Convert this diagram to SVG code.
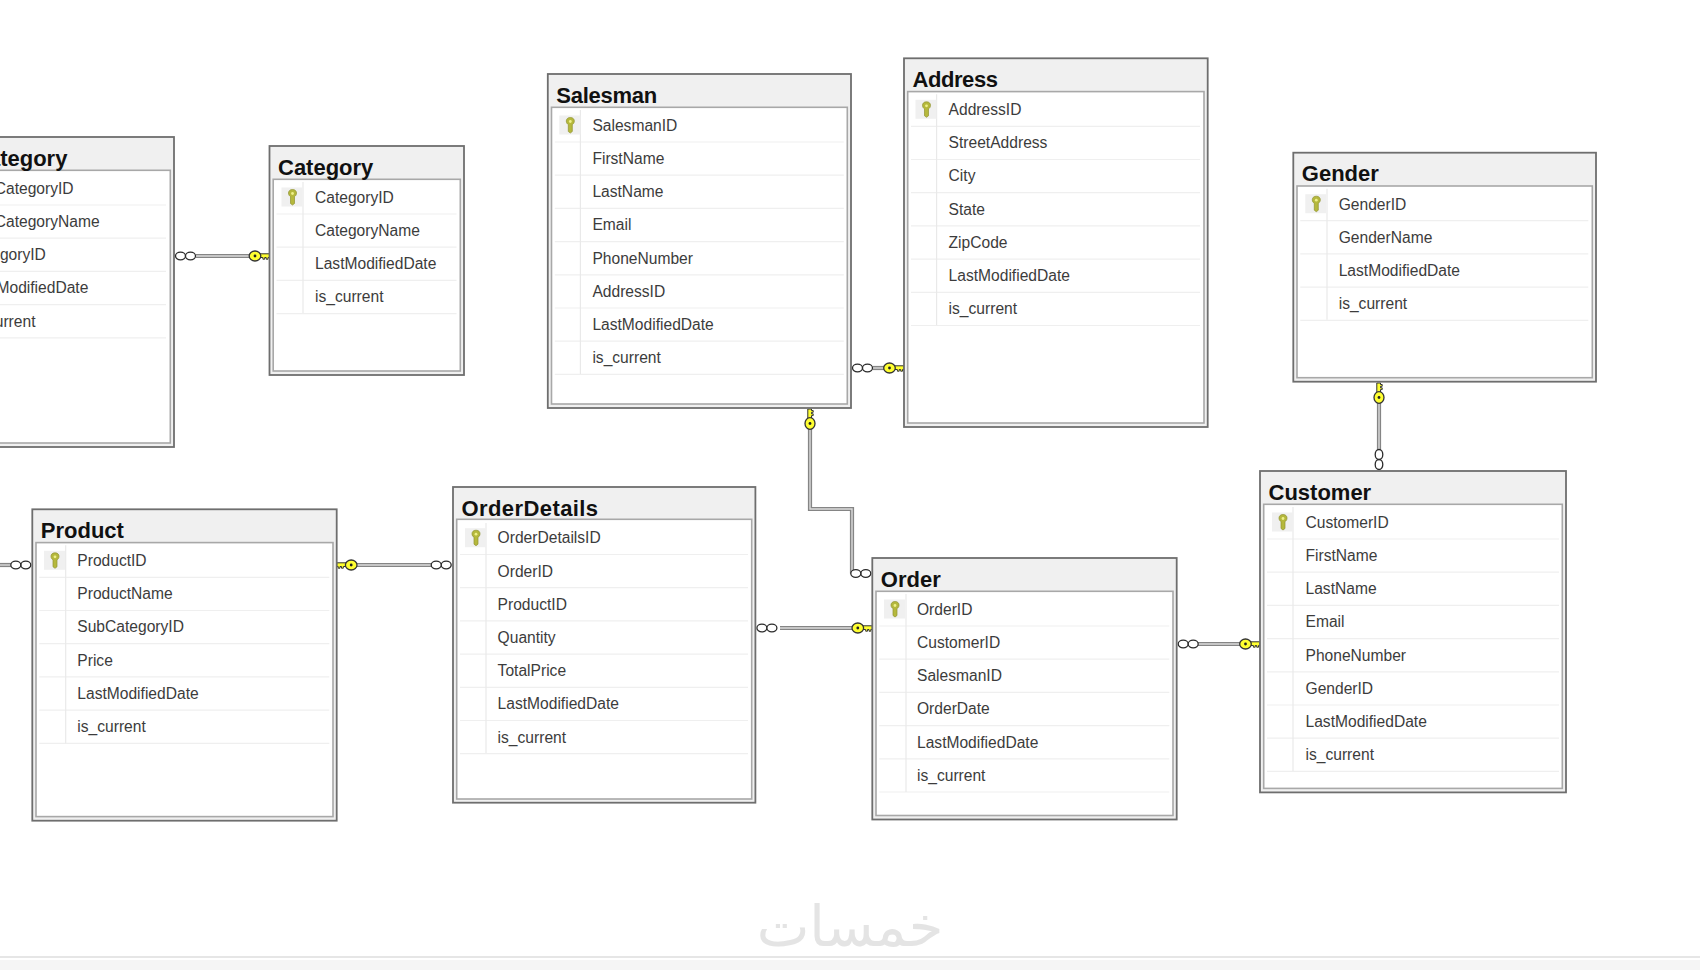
<svg xmlns="http://www.w3.org/2000/svg" width="1700" height="970" viewBox="0 0 1700 970">
<style>
.outer{fill:#f0f0f0;stroke:#6e6e6e;stroke-width:1.8}
.inner{fill:#fff;stroke:#a8a8a8;stroke-width:1.6}
.title{font:bold 22px "Liberation Sans",Arial,sans-serif;fill:#111}
.f{font:15.6px "Liberation Sans",Arial,sans-serif;fill:#3c3c3c;transform:translateY(.8px)}
.sep{stroke:#efefef;stroke-width:1.2;fill:none}
.gut{stroke:#e9e9e9;stroke-width:1.2;fill:none}
.l1{fill:none;stroke:#858585;stroke-width:4.2}
.l2{fill:none;stroke:#dcdcdc;stroke-width:1.4}
.wm{font:56px "DejaVu Sans",sans-serif;fill:#e4e4e4}
</style>
<defs>
<g id="key">
<path d="M-10-2.200H0V1.500H-1.500V3.200H-3.300V1.500H-4.800V3.200H-6.600V1.500H-10Z" fill="#ffff30" stroke="#333" stroke-width="1"/>
<ellipse cx="-14.500" cy="0" rx="5.800" ry="5" fill="#ffff30" stroke="#333" stroke-width="1.300"/>
<circle cx="-14.500" cy="0" r="1.400" fill="#222"/>
</g>
<g id="oo" fill="#fff" stroke="#2a2a2a" stroke-width="1.300">
<ellipse cx="6.500" cy="0" rx="5" ry="3.800"/>
<ellipse cx="16.500" cy="0" rx="5" ry="3.800"/>
</g>
<g id="pk">
<rect x="-11" y="-9.500" width="21" height="19" fill="#f0f0f0"/>
<path d="M0-7.500c3 0 4 2 4 3.500 0 2-1 3-2 3.500V6.500L0 8-2 6.500V-.5c-1-.5-2-1.500-2-3.500C-4-5.500-3-7.500 0-7.500Z" fill="#b5b83c" stroke="#8f9230" stroke-width=".7"/>
<circle cx="0" cy="-3.500" r="1.400" fill="#eef08a"/>
</g>
</defs>
<rect x="0" y="0" width="1700" height="970" fill="#fff"/>

<g id="connectors">
<path class="l1" d="M196 256H255"/><path class="l2" d="M196 256H255"/>
<path class="l1" d="M873 368H888"/><path class="l2" d="M873 368H888"/>
<path class="l1" d="M810 425V509H852V573.500"/><path class="l2" d="M810 425V509H852V573.500"/>
<path class="l1" d="M780 628H855"/><path class="l2" d="M780 628H855"/>
<path class="l1" d="M1197 644H1245"/><path class="l2" d="M1197 644H1245"/>
<path class="l1" d="M1379 400V450"/><path class="l2" d="M1379 400V450"/>
<path class="l1" d="M350 565H432"/><path class="l2" d="M350 565H432"/>
<path class="l1" d="M0 565H12"/><path class="l2" d="M0 565H12"/>
<use href="#oo" transform="translate(174,256)"/>
<use href="#key" transform="translate(269.500,256)"/>
<use href="#oo" transform="translate(851,368)"/>
<use href="#key" transform="translate(904,368)"/>
<use href="#key" transform="translate(810,409) rotate(-90)"/>
<use href="#oo" transform="translate(872.300,573.500) scale(-1,1)"/>
<use href="#oo" transform="translate(755.400,628)"/>
<use href="#key" transform="translate(872.300,628)"/>
<use href="#oo" transform="translate(1176.700,644)"/>
<use href="#key" transform="translate(1260,644)"/>
<use href="#key" transform="translate(1379,383) rotate(-90)"/>
<use href="#oo" transform="translate(1379,471) rotate(-90)"/>
<use href="#key" transform="translate(336.700,565) scale(-1,1)"/>
<use href="#oo" transform="translate(452.700,565) scale(-1,1)"/>
<use href="#oo" transform="translate(32.300,565) scale(-1,1)"/>
</g>

<g id="SubCategory" transform="translate(-78,137)">
<rect class="outer" width="252" height="310"/><rect class="inner" x="3.700" y="33.300" width="244.600" height="272.700"/>
<path class="sep" d="M7 68H244M7 101.200H244M7 134.400H244M7 167.600H244M7 200.800H244"/>
<path class="gut" d="M33 36V200"/>
<text class="title" x="8.500" y="28.700">SubCategory</text>
<use href="#pk" x="22.500" y="51"/>
<text class="f" x="45" y="56">SubCategoryID</text>
<text class="f" x="45" y="89.200">SubCategoryName</text>
<text class="f" x="45" y="122.400">CategoryID</text>
<text class="f" x="45" y="155.600">LastModifiedDate</text>
<text class="f" x="45" y="188.800">is_current</text>
</g>

<g id="Category" transform="translate(269.500,146)">
<rect class="outer" width="194.500" height="229"/><rect class="inner" x="3.700" y="33.300" width="187.100" height="191.700"/>
<path class="sep" d="M7 68H187M7 101.200H187M7 134.400H187M7 167.600H187"/>
<path class="gut" d="M33.500 36V167"/>
<text class="title" x="8.500" y="28.700">Category</text>
<use href="#pk" x="23" y="51"/>
<text class="f" x="45.500" y="56">CategoryID</text>
<text class="f" x="45.500" y="89.200">CategoryName</text>
<text class="f" x="45.500" y="122.400">LastModifiedDate</text>
<text class="f" x="45.500" y="155.600">is_current</text>
</g>

<g id="Salesman" transform="translate(547.800,74)">
<rect class="outer" width="303.200" height="334"/><rect class="inner" x="3.700" y="33.300" width="295.800" height="296.700"/>
<path class="sep" d="M7 68H296M7 101.200H296M7 134.400H296M7 167.600H296M7 200.800H296M7 234H296M7 267.200H296M7 300.400H296"/>
<path class="gut" d="M32.600 36V300"/>
<text class="title" x="8.500" y="28.700" textLength="100.800">Salesman</text>
<use href="#pk" x="22.500" y="51"/>
<text class="f" x="44.600" y="56">SalesmanID</text>
<text class="f" x="44.600" y="89.200">FirstName</text>
<text class="f" x="44.600" y="122.400">LastName</text>
<text class="f" x="44.600" y="155.600">Email</text>
<text class="f" x="44.600" y="188.800">PhoneNumber</text>
<text class="f" x="44.600" y="222">AddressID</text>
<text class="f" x="44.600" y="255.200">LastModifiedDate</text>
<text class="f" x="44.600" y="288.400">is_current</text>
</g>

<g id="Address" transform="translate(904,58.300)">
<rect class="outer" width="303.700" height="368.700"/><rect class="inner" x="3.700" y="33.300" width="296.300" height="331.400"/>
<path class="sep" d="M7 68H296M7 101.200H296M7 134.400H296M7 167.600H296M7 200.800H296M7 234H296M7 267.200H296"/>
<path class="gut" d="M32.600 36V267"/>
<text class="title" x="8.500" y="28.700" textLength="85.500">Address</text>
<use href="#pk" x="22.500" y="51"/>
<text class="f" x="44.600" y="56">AddressID</text>
<text class="f" x="44.600" y="89.200">StreetAddress</text>
<text class="f" x="44.600" y="122.400">City</text>
<text class="f" x="44.600" y="155.600">State</text>
<text class="f" x="44.600" y="188.800">ZipCode</text>
<text class="f" x="44.600" y="222">LastModifiedDate</text>
<text class="f" x="44.600" y="255.200">is_current</text>
</g>

<g id="Gender" transform="translate(1293.300,152.700)">
<rect class="outer" width="302.700" height="229"/><rect class="inner" x="3.700" y="33.300" width="295.300" height="191.700"/>
<path class="sep" d="M7 68H295M7 101.200H295M7 134.400H295M7 167.600H295"/>
<path class="gut" d="M33.700 36V167"/>
<text class="title" x="8.500" y="28.700">Gender</text>
<use href="#pk" x="23" y="51"/>
<text class="f" x="45.400" y="56">GenderID</text>
<text class="f" x="45.400" y="89.200">GenderName</text>
<text class="f" x="45.400" y="122.400">LastModifiedDate</text>
<text class="f" x="45.400" y="155.600">is_current</text>
</g>

<g id="Product" transform="translate(32.300,509.300)">
<rect class="outer" width="304.400" height="311.400"/><rect class="inner" x="3.700" y="33.300" width="297" height="274"/>
<path class="sep" d="M7 68H297M7 101.200H297M7 134.400H297M7 167.600H297M7 200.800H297M7 234H297"/>
<path class="gut" d="M33.400 36V234"/>
<text class="title" x="8.500" y="28.700">Product</text>
<use href="#pk" x="22.700" y="51"/>
<text class="f" x="45" y="56">ProductID</text>
<text class="f" x="45" y="89.200">ProductName</text>
<text class="f" x="45" y="122.400">SubCategoryID</text>
<text class="f" x="45" y="155.600">Price</text>
<text class="f" x="45" y="188.800">LastModifiedDate</text>
<text class="f" x="45" y="222">is_current</text>
</g>

<g id="OrderDetails" transform="translate(453,487)">
<rect class="outer" width="302.400" height="315.700"/><rect class="inner" x="3.700" y="32.300" width="295" height="279.700"/>
<path class="sep" d="M7 67.500H295M7 100.700H295M7 133.900H295M7 167.100H295M7 200.300H295M7 233.500H295M7 266.700H295"/>
<path class="gut" d="M33 36V266"/>
<text class="title" x="8.500" y="28.700" textLength="136.600">OrderDetails</text>
<use href="#pk" x="23" y="50.700"/>
<text class="f" x="44.600" y="55.700">OrderDetailsID</text>
<text class="f" x="44.600" y="88.900">OrderID</text>
<text class="f" x="44.600" y="122.100">ProductID</text>
<text class="f" x="44.600" y="155.300">Quantity</text>
<text class="f" x="44.600" y="188.500">TotalPrice</text>
<text class="f" x="44.600" y="221.700">LastModifiedDate</text>
<text class="f" x="44.600" y="254.900">is_current</text>
</g>

<g id="Order" transform="translate(872.300,558)">
<rect class="outer" width="304.400" height="261.500"/><rect class="inner" x="3.700" y="33.300" width="297" height="224.200"/>
<path class="sep" d="M7 68H297M7 101.200H297M7 134.400H297M7 167.600H297M7 200.800H297M7 234H297"/>
<path class="gut" d="M33.700 36V234"/>
<text class="title" x="8.500" y="28.700">Order</text>
<use href="#pk" x="22.700" y="51"/>
<text class="f" x="44.700" y="56">OrderID</text>
<text class="f" x="44.700" y="89.200">CustomerID</text>
<text class="f" x="44.700" y="122.400">SalesmanID</text>
<text class="f" x="44.700" y="155.600">OrderDate</text>
<text class="f" x="44.700" y="188.800">LastModifiedDate</text>
<text class="f" x="44.700" y="222">is_current</text>
</g>

<g id="Customer" transform="translate(1260,471)">
<rect class="outer" width="306" height="321.400"/><rect class="inner" x="3.700" y="33.300" width="298.600" height="284.100"/>
<path class="sep" d="M7 68H299M7 101.200H299M7 134.400H299M7 167.600H299M7 200.800H299M7 234H299M7 267.200H299M7 300.400H299"/>
<path class="gut" d="M33 36V300"/>
<text class="title" x="8.500" y="28.700">Customer</text>
<use href="#pk" x="23" y="51"/>
<text class="f" x="45.500" y="56">CustomerID</text>
<text class="f" x="45.500" y="89.200">FirstName</text>
<text class="f" x="45.500" y="122.400">LastName</text>
<text class="f" x="45.500" y="155.600">Email</text>
<text class="f" x="45.500" y="188.800">PhoneNumber</text>
<text class="f" x="45.500" y="222">GenderID</text>
<text class="f" x="45.500" y="255.200">LastModifiedDate</text>
<text class="f" x="45.500" y="288.400">is_current</text>
</g>

<text class="wm" x="850" y="946" text-anchor="middle" direction="rtl">خمسات</text>
<rect x="0" y="956" width="1700" height="2" fill="#e6e6e6"/>
<rect x="0" y="960" width="1700" height="10" fill="#f5f5f5"/>
</svg>
